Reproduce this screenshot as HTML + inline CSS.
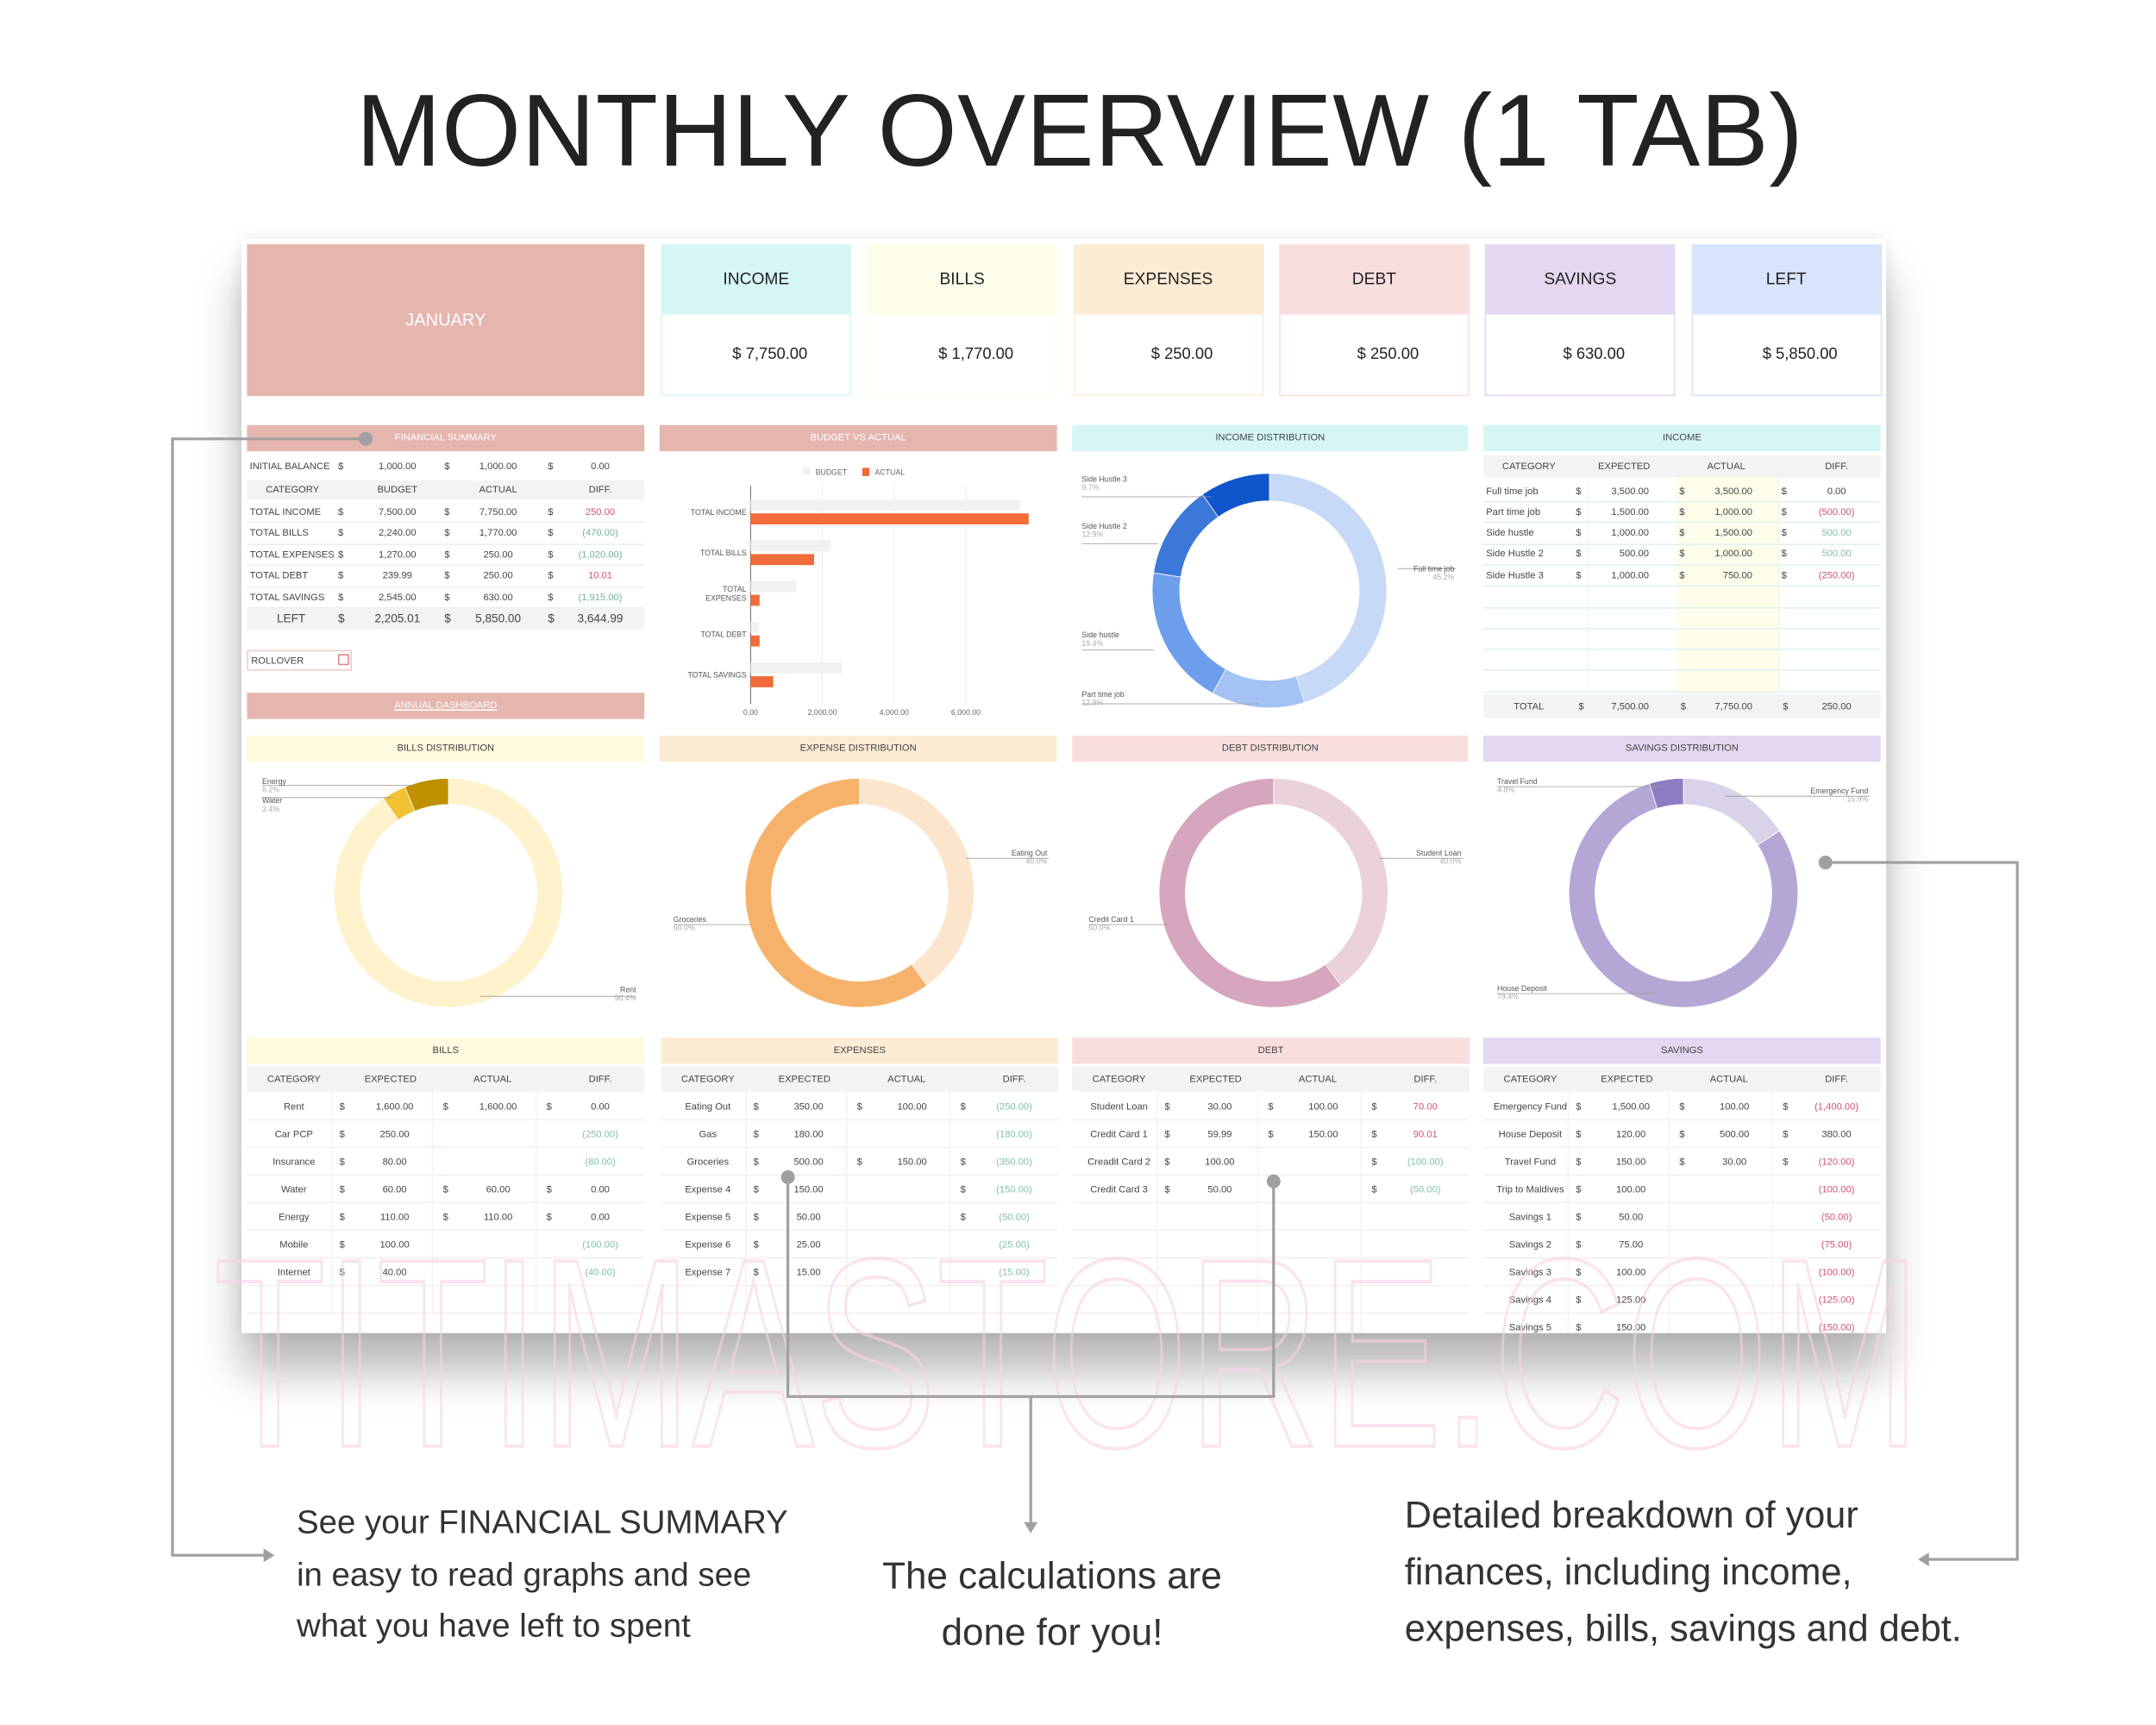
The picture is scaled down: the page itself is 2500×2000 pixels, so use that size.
<!DOCTYPE html>
<html><head><meta charset="utf-8">
<style>
html,body{margin:0;padding:0;background:#fff;width:2500px;height:2000px;overflow:hidden}
#root{position:absolute;left:0;top:0;width:1562.5px;height:1250px;transform:scale(1.6);transform-origin:0 0;font-family:"Liberation Sans",sans-serif;color:#333}
.abs{position:absolute}
.hdr{position:absolute;font-size:7px;display:flex;align-items:center;justify-content:center;color:#444}
.t{position:absolute;font-size:7px;color:#444;white-space:nowrap;line-height:1}
.card-h{position:absolute;height:50px;display:flex;align-items:center;justify-content:center;font-size:12px;color:#222}
.card-v{position:absolute;height:60px;background:#fff;display:flex;align-items:center;justify-content:center;font-size:11.5px;color:#222;box-sizing:border-box}
.txt{position:absolute;font-size:24px;color:#333;line-height:1}
</style></head><body>
<div id="root">
<div class="abs" style="left:0;width:1565px;top:52px;text-align:center;font-size:74px;color:#222;letter-spacing:0.3px">MONTHLY OVERVIEW (1 TAB)</div>

<div class="abs" style="left:175px;top:173px;width:1192px;height:793px;background:#fff;box-shadow:0 28px 30px rgba(0,0,0,0.28),0 0 12px rgba(0,0,0,0.1)"></div>
<div id="sheet" class="abs" style="left:0;top:0;width:1562px;height:966px;overflow:hidden"></div>

<svg class="abs" style="left:0;top:0" width="1562" height="1250">
<text x="155" y="1048" textLength="1237" lengthAdjust="spacingAndGlyphs" font-family="Liberation Sans, sans-serif" font-size="195" fill="none" stroke="#f8d2e4" stroke-width="2.5" opacity="0.6">TITIMASTORE.COM</text>
</svg>

<svg class="abs" style="left:0;top:0" width="1562" height="1250">
<g stroke="#a0a0a0" stroke-width="2" fill="none">
<polyline points="265,318 125,318 125,1127 193,1127"/>
<polyline points="571,853 571,1012 923,1012 923,856"/>
<polyline points="747,1012 747,1105"/>
<polyline points="1323,625 1462,625 1462,1130 1396,1130"/>
</g>
<g fill="#a0a0a0">
<circle cx="265" cy="318" r="5"/><circle cx="571" cy="853" r="5"/><circle cx="923" cy="856" r="5"/><circle cx="1323" cy="625" r="5"/>
<polygon points="199,1127 191,1122 191,1132"/><polygon points="747,1111 742,1103 752,1103"/><polygon points="1390,1130 1398,1125 1398,1135"/>
</g></svg>

<div class="txt" style="left:215px;top:1085px;line-height:37.5px">See your FINANCIAL SUMMARY<br>in easy to read graphs and see<br>what you have left to spent</div>
<div class="txt" style="left:600px;width:325px;top:1121px;text-align:center;font-size:27.5px;line-height:41px">The calculations are<br>done for you!</div>
<div class="txt" style="left:1018px;top:1078px;font-size:27px;line-height:41px">Detailed breakdown of your<br>finances, including income,<br>expenses, bills, savings and debt.</div>
</div>

<script>
// ---------- data ----------
const cardLabels = ["INCOME","BILLS","EXPENSES","DEBT","SAVINGS","LEFT"];
const cardValues = [7750,1770,250,250,630,5850];
const summaryCats = ["TOTAL INCOME","TOTAL BILLS","TOTAL EXPENSES","TOTAL DEBT","TOTAL SAVINGS"];
const summaryBudget = [7500,2240,1270,239.99,2545];
const summaryActual = [7750,1770,250,250,630];
const leftValues = [2205.01,5850,3644.99];
const bvaCats = ["TOTAL INCOME","TOTAL BILLS","TOTAL EXPENSES","TOTAL DEBT","TOTAL SAVINGS"];
const bvaBudget = [7500,2240,1270,239.99,2545];
const bvaActual = [7750,1770,250,250,630];
const bvaTicks = [0,2000,4000,6000];
const incomeCats = ["Full time job","Part time job","Side hustle","Side Hustle 2","Side Hustle 3"];
const incomeExpected = [3500,1500,1000,500,1000];
const incomeActual = [3500,1000,1500,1000,750];
const billsCats = ["Rent","Car PCP","Insurance","Water","Energy","Mobile","Internet"];
const billsExpected = [1600,250,80,60,110,100,40];
const billsActual = [1600,null,null,60,110,null,null];
const expCats = ["Eating Out","Gas","Groceries","Expense 4","Expense 5","Expense 6","Expense 7"];
const expExpected = [350,180,500,150,50,25,15];
const expActual = [100,null,150,null,null,null,null];
const debtCats = ["Student Loan","Credit Card 1","Creadit Card 2","Credit Card 3"];
const debtExpected = [30,59.99,100,50];
const debtActual = [100,150,null,null];
const savCats = ["Emergency Fund","House Deposit","Travel Fund","Trip to Maldives","Savings 1","Savings 2","Savings 3","Savings 4","Savings 5"];
const savExpected = [1500,120,150,100,50,75,100,125,150];
const savActual = [100,500,30,null,null,null,null,null,null];
const billsDistCats = ["Rent","Water","Energy"];
const billsDistVals = [90.4,3.4,6.2];
const expDistCats = ["Eating Out","Groceries"];
const expDistVals = [40,60];
const debtDistCats = ["Student Loan","Credit Card 1"];
const debtDistVals = [40,60];
const savDistCats = ["Emergency Fund","House Deposit","Travel Fund"];
const savDistVals = [15.9,79.4,4.8];

// ---------- helpers ----------
const S = document.getElementById('sheet');
function fmt(v){const a=Math.abs(v).toLocaleString('en-US',{minimumFractionDigits:2,maximumFractionDigits:2});return v<0?'('+a+')':a;}
function box(x,y,w,h,bg,name){const d=document.createElement('div');d.className='abs';d.style.cssText=`left:${x}px;top:${y}px;width:${w}px;height:${h}px;background:${bg}`;


S.appendChild(d);return d;}
function txt(x,y,s,name,opt){opt=opt||{};const d=document.createElement('div');d.className='t';d.textContent=s;
let css=`top:${y-3.5}px;`;
if(opt.align==='center')css+=`left:${x-60}px;width:120px;text-align:center;`;
else if(opt.align==='right')css+=`left:${x-120}px;width:120px;text-align:right;`;
else css+=`left:${x}px;`;
if(opt.color)css+=`color:${opt.color};`;if(opt.size)css+=`font-size:${opt.size}px;top:${y-opt.size/2}px;`;if(opt.bold)css+='font-weight:bold;';
d.style.cssText=css;


S.appendChild(d);return d;}
function header(x,y,w,h,bg,label,name,color){const d=document.createElement('div');d.className='hdr';d.style.cssText=`left:${x}px;top:${y}px;width:${w}px;height:${h}px;background:${bg};color:${color||'#444'}`;d.textContent=label;


S.appendChild(d);return d;}

// ---------- top cards ----------
box(179,177,288,110,'#e5b6ae','month-box');
txt(323,232,'JANUARY','month-label',{align:'center',color:'#fff',size:12.5});
const cardColors=['#d6f6f6','#fefdea','#fdecd4','#f9dede','#e3d7f1','#d7e4fb'];
cardLabels.forEach((l,i)=>{const x=479+i*149.3;
 const h=document.createElement('div');h.className='card-h';h.style.cssText=`left:${x}px;top:177px;width:138px;background:${cardColors[i]}`;h.textContent=l;
 
 
 S.appendChild(h);
 const v=document.createElement('div');v.className='card-v';v.style.cssText=`left:${x}px;top:227px;width:138px;border:1px solid ${cardColors[i]};padding-left:20px`;v.textContent='$ '+fmt(cardValues[i]);
 
 
 S.appendChild(v);
});

// ---------- financial summary ----------
header(179,308,288,19,'#e5b6ae','FINANCIAL SUMMARY','financial-summary-header','#fff');
const fcol={lab:181,d1:245,b:288,d2:322,a:361,d3:397,df:435};
txt(fcol.lab,338,'INITIAL BALANCE','initial-balance-label');
[[fcol.d1,'$'],[fcol.b,'1,000.00'],[fcol.d2,'$'],[fcol.a,'1,000.00'],[fcol.d3,'$'],[fcol.df,'0.00']].forEach(([x,s],i)=>txt(x,338,s,'initial-balance-cell',{align:i%2?'center':'left'}));
box(179,348,288,14,'#f3f3f3','summary-column-header-row');
[['CATEGORY',212],['BUDGET',288],['ACTUAL',361],['DIFF.',435]].forEach(([s,x])=>txt(x,355,s,'summary-col-header',{align:'center'}));
summaryCats.forEach((c,i)=>{const y=371+i*15.5;const d=summaryActual[i]-summaryBudget[i];
 box(179,y+7,288,0.6,'#eee','summary-row-line');
 txt(fcol.lab,y,c,'summary-category');
 txt(fcol.d1,y,'$','summary-dollar');txt(fcol.b,y,fmt(summaryBudget[i]),'summary-budget',{align:'center'});
 txt(fcol.d2,y,'$','summary-dollar');txt(fcol.a,y,fmt(summaryActual[i]),'summary-actual',{align:'center'});
 txt(fcol.d3,y,'$','summary-dollar');txt(fcol.df,y,fmt(d),'summary-diff',{align:'center',color:d>=0?'#d0507a':'#6fb39b'});
});
box(179,441,288,15,'#f3f3f3','left-row');
txt(211,448,'LEFT','left-label',{align:'center',size:8.5});
txt(fcol.d1,448,'$','left-dollar',{size:8.5});txt(fcol.b,448,fmt(leftValues[0]),'left-budget',{align:'center',size:8.5});
txt(fcol.d2,448,'$','left-dollar',{size:8.5});txt(fcol.a,448,fmt(leftValues[1]),'left-actual',{align:'center',size:8.5});
txt(fcol.d3,448,'$','left-dollar',{size:8.5});txt(fcol.df,448,fmt(leftValues[2]),'left-diff',{align:'center',size:8.5});
const ro=box(179,471,76,15,'#fff','rollover-box');ro.style.border='1px solid #ecc';ro.style.boxSizing='border-box';

txt(182,479,'ROLLOVER','rollover-label');
const cb=box(245,474,8,8,'#fff','rollover-checkbox');cb.style.border='1px solid #e08a8a';cb.style.boxSizing='border-box';

const ad=header(179,502,288,19,'#e5b6ae','ANNUAL DASHBOARD','annual-dashboard-link','#fff');ad.style.textDecoration='underline';


// ---------- budget vs actual ----------
header(478,308,288,19,'#e5b6ae','BUDGET VS ACTUAL','budget-vs-actual-header','#fff');
const NS='http://www.w3.org/2000/svg';
function svgEl(tag,attrs,parent,name){const e=document.createElementNS(NS,tag);for(const k in attrs)e.setAttribute(k,attrs[k]);
 
 
 parent.appendChild(e);return e;}
const svg=document.createElementNS(NS,'svg');svg.setAttribute('width',1562);svg.setAttribute('height',966);svg.style.cssText='position:absolute;left:0;top:0';


S.appendChild(svg);
const bx=v=>544+v*0.026;
const by=i=>371+i*29.5;
bvaTicks.forEach(t=>{svgEl('line',{x1:bx(t),x2:bx(t),y1:352,y2:510,stroke:'#e8e8e8','stroke-width':0.6},svg,'bva-gridline');
 const l=svgEl('text',{x:bx(t),y:518,'font-size':5.5,'text-anchor':'middle',fill:'#666','font-family':'Liberation Sans'},svg,'bva-tick-label');l.textContent=fmt(t);});
svgEl('line',{x1:bx(0),x2:bx(0),y1:352,y2:510,stroke:'#777','stroke-width':0.7},svg,'bva-axis');
svgEl('rect',{x:582,y:339,width:5,height:5,fill:'#f0f0f0'},svg,'legend-budget-swatch');
let lt=svgEl('text',{x:591,y:344,'font-size':5.5,fill:'#666','font-family':'Liberation Sans'},svg,'legend-budget');lt.textContent='BUDGET';
svgEl('rect',{x:625,y:339,width:5,height:6,fill:'#f26b3a'},svg,'legend-actual-swatch');
lt=svgEl('text',{x:634,y:344,'font-size':5.5,fill:'#666','font-family':'Liberation Sans'},svg,'legend-actual');lt.textContent='ACTUAL';
bvaCats.forEach((c,i)=>{const y=by(i);
 svgEl('rect',{x:bx(0),y:y-9,width:bx(bvaBudget[i])-bx(0),height:8,fill:'#f1f1f1'},svg,'bar-budget');
 svgEl('rect',{x:bx(0),y:y+1,width:bx(bvaActual[i])-bx(0),height:8,fill:'#f26b3a'},svg,'bar-actual');
 const parts=c==='TOTAL EXPENSES'?['TOTAL','EXPENSES']:[c];
 parts.forEach((p,k)=>{const t=svgEl('text',{x:541,y:y+2+(k-(parts.length-1)/2)*6.5,'font-size':5.5,'text-anchor':'end',fill:'#555','font-family':'Liberation Sans'},svg,'bva-category-label');t.textContent=p;});
});

// ---------- donuts ----------
function donut(cx,cy,R,r,vals,cols,name){const tot=vals.reduce((a,b)=>a+b,0);let a0=-Math.PI/2;
 vals.forEach((v,i)=>{const a1=a0+v/tot*2*Math.PI;const big=(a1-a0)>Math.PI?1:0;
  const p=(rad,a)=>[cx+rad*Math.cos(a),cy+rad*Math.sin(a)];
  const [x0,y0]=p(R,a0),[x1,y1]=p(R,a1),[x2,y2]=p(r,a1),[x3,y3]=p(r,a0);
  svgEl('path',{d:`M${x0},${y0}A${R},${R} 0 ${big} 1 ${x1},${y1}L${x2},${y2}A${r},${r} 0 ${big} 0 ${x3},${y3}Z`,fill:cols[i],stroke:'#fff','stroke-width':0.5},svg,name+'-slice');
  a0=a1;});}
function plabel(x,y,name,pct,lx1,lx2,ly,anchor){svgEl('line',{x1:lx1,x2:lx2,y1:ly,y2:ly,stroke:'#999','stroke-width':0.5},svg,'leader-line');
 let t=svgEl('text',{x:x,y:y,'font-size':5.5,fill:'#555','text-anchor':anchor||'start','font-family':'Liberation Sans'},svg,'slice-label');t.textContent=name;
 t=svgEl('text',{x:x,y:y+6,'font-size':5.5,fill:'#aaa','text-anchor':anchor||'start','font-family':'Liberation Sans'},svg,'slice-percent');t.textContent=pct;}
const pc=(v,arr)=>(v/arr.reduce((a,b)=>a+b,0)*100).toFixed(1)+'%';

header(777,308,287,19,'#d6f6f6','INCOME DISTRIBUTION','income-distribution-header');
donut(920,428,85,65,incomeActual,['#c6d9f6','#a4c2f4','#6d9eeb','#3c78d8','#1155cc'],'income');
plabel(784,349,incomeCats[4],pc(incomeActual[4],incomeActual),784,878,360);
plabel(784,383,incomeCats[3],pc(incomeActual[3],incomeActual),784,839,394);
plabel(784,462,incomeCats[2],pc(incomeActual[2],incomeActual),784,836,471);
plabel(784,505,incomeCats[1],pc(incomeActual[1],incomeActual),784,912,510);
plabel(1054,414,incomeCats[0],pc(incomeActual[0],incomeActual),1013,1055,412,'end');

header(179,533,288,19,'#fff9de','BILLS DISTRIBUTION','bills-distribution-header');
donut(325,647,83,64,billsDistVals,['#fff2cc','#f1c232','#bf9000'],'bills');
plabel(190,568,billsDistCats[2],billsDistVals[2].toFixed(1)+'%',190,300,569);
plabel(190,582,billsDistCats[1],billsDistVals[1].toFixed(1)+'%',190,285,578);
plabel(461,719,billsDistCats[0],billsDistVals[0].toFixed(1)+'%',348,461,722,'end');

header(478,533,288,19,'#fdecd4','EXPENSE DISTRIBUTION','expense-distribution-header');
donut(623,647,83,64,expDistVals,['#fce5cd','#f6b26b'],'expense');
plabel(759,620,expDistCats[0],pc(expDistVals[0],expDistVals),700,760,622,'end');
plabel(488,668,expDistCats[1],pc(expDistVals[1],expDistVals),488,545,670);

header(777,533,287,19,'#f9dede','DEBT DISTRIBUTION','debt-distribution-header');
donut(923,647,83,64,debtDistVals,['#ead1dc','#d5a6bd'],'debt');
plabel(1059,620,debtDistCats[0],pc(debtDistVals[0],debtDistVals),1000,1060,622,'end');
plabel(789,668,debtDistCats[1],pc(debtDistVals[1],debtDistVals),789,846,670);

header(1075,533,288,19,'#e3d7f1','SAVINGS DISTRIBUTION','savings-distribution-header');
donut(1220,647,83,64,savDistVals,['#d9d2e9','#b4a7d6','#8e7cc3'],'savings');
plabel(1085,568,savDistCats[2],savDistVals[2].toFixed(1)+'%',1085,1205,570);
plabel(1354,575,savDistCats[0],savDistVals[0].toFixed(1)+'%',1250,1355,577,'end');
plabel(1085,718,savDistCats[1],savDistVals[1].toFixed(1)+'%',1085,1200,720);

// ---------- income table ----------
header(1075,308,288,19,'#d6f6f6','INCOME','income-table-header');
box(1075,330,288,16,'#f3f3f3','income-col-header-row');
box(1215,346,74,155,'#fefde9','income-actual-highlight');
[['CATEGORY',1108],['EXPECTED',1177],['ACTUAL',1251],['DIFF.',1331]].forEach(([s,x])=>txt(x,338,s,'income-col-header',{align:'center'}));
for(let i=0;i<10;i++)box(1075,363+i*15.3,288,0.6,'#dff1f1','income-row-line');
[1150,1289].forEach(x=>box(x,346,0.6,155,'#eef6f6','income-col-line'));
incomeCats.forEach((c,i)=>{const y=356+i*15.3;const d=incomeActual[i]-incomeExpected[i];
 txt(1077,y,c,'income-category');txt(1142,y,'$','income-dollar');txt(1195,y,fmt(incomeExpected[i]),'income-expected',{align:'right'});
 txt(1217,y,'$','income-dollar');txt(1270,y,fmt(incomeActual[i]),'income-actual',{align:'right'});
 txt(1291,y,'$','income-dollar');txt(1331,y,fmt(d),'income-diff',{align:'center',color:d>0?'#7fc2a8':d<0?'#d0507a':'#444'});});
box(1075,503,288,17,'#f3f3f3','income-total-row');
const iE=incomeExpected.reduce((a,b)=>a+b,0),iA=incomeActual.reduce((a,b)=>a+b,0);
txt(1108,512,'TOTAL','income-total-label',{align:'center'});txt(1144,512,'$','d');txt(1195,512,fmt(iE),'income-total-expected',{align:'right'});
txt(1218,512,'$','d');txt(1270,512,fmt(iA),'income-total-actual',{align:'right'});txt(1292,512,'$','d');txt(1331,512,fmt(iA-iE),'income-total-diff',{align:'center'});

// ---------- bottom tables ----------
function table(x,title,bg,cats,ex,ac,rows,posC,negC,dollarDiff,name,center){
 header(x,752,288,19,bg,title,name+'-table-header');
 box(x,773,288,18,'#f3f3f3',name+'-col-header-row');
 [['CATEGORY',34],['EXPECTED',104],['ACTUAL',178],['DIFF.',256]].forEach(([s,dx])=>txt(x+dx,782,s,name+'-col-header',{align:'center'}));
 for(let i=0;i<rows;i++)box(x,811+i*20,288,0.6,'#f5eeee',name+'-row-line');
 [61,134,209].forEach(dx=>box(x+dx,791,0.6,rows*20,'#f6f3ee',name+'-col-line'));
 cats.forEach((c,i)=>{const y=802+i*20;const d=(ac[i]||0)-ex[i];
  if(center)txt(x+34,y,c,name+'-category',{align:'center'});else txt(x+2,y,c,name+'-category');
  txt(x+67,y,'$',name+'-dollar');txt(x+107,y,fmt(ex[i]),name+'-expected',{align:'center'});
  if(ac[i]!=null){txt(x+142,y,'$',name+'-dollar');txt(x+182,y,fmt(ac[i]),name+'-actual',{align:'center'});}
  if(ac[i]!=null||dollarDiff[i])txt(x+217,y,'$',name+'-dollar');
  txt(x+256,y,fmt(d),name+'-diff',{align:'center',color:d>0?posC:d<0?negC:'#444'});});
}
table(179,'BILLS','#fff9de',billsCats,billsExpected,billsActual,8,'#444','#7fc2a8',[],'bills',true);
table(479,'EXPENSES','#fdecd4',expCats,expExpected,expActual,8,'#444','#7fc2a8',[0,0,0,1,1,0,0],'expenses',true);
table(777,'DEBT','#f9dede',debtCats,debtExpected,debtActual,9,'#d0507a','#7fc2a8',[0,0,1,1],'debt',true);
table(1075,'SAVINGS','#e3d7f1',savCats,savExpected,savActual,9,'#444','#d0507a',[],'savings',true);
</script>
</body></html>
